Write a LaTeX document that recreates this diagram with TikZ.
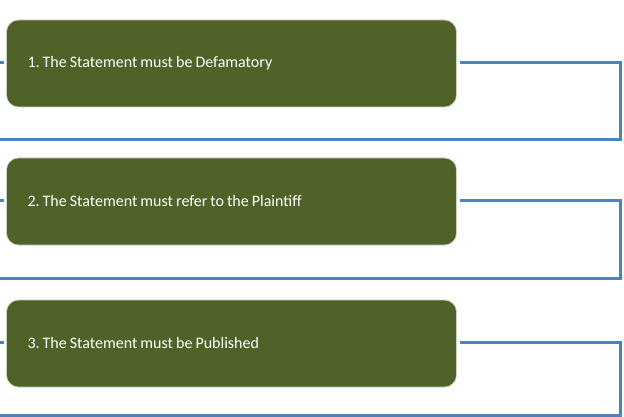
\documentclass[tikz,border=0pt]{standalone}
\usepackage{fontspec}
\setmainfont{Carlito}
\definecolor{boxgreen}{HTML}{4F6228}
\definecolor{lineblue}{HTML}{4F81BD}
% tighter word spaces, as the reference sets them
\newcommand\steptext[1]{\frenchspacing\spaceskip=0.19em\relax #1}
\tikzset{
  stepbox/.style={draw=boxgreen!30!white, line width=0.5pt, fill=boxgreen, rounded corners=9pt,
    text=white, align=left, text width=306pt, inner xsep=15.75pt, minimum height=65.25pt,
    font=\fontsize{12}{14}\selectfont},
  link/.style={draw=lineblue, line width=2.25pt}
}
\begin{document}
\begin{tikzpicture}[x=0.75pt, y=-0.75pt]
      % Keep the page at the size of the reference
      \useasboundingbox (0,0) rectangle (624,417);

      % The three steps, each with its bent return line
      \foreach \i/\y/\ybot/\txt in {1/63.5/140/{1. The Statement must be Defamatory},
                                    2/201.5/278/{2. The Statement must refer to the Plaintiff},
                                    3/343.5/415/{3. The Statement must be Published}} {
          \coordinate (r\i) at (620, \ybot);
          \coordinate (l\i) at (0, \ybot);
          \node[stepbox] (b\i) at (231.5, \y) {\steptext{\txt}};
          \draw[link, shorten <=2.25pt] ([yshift=1.1pt]b\i.east) -| (r\i) -- (l\i);
          \draw[link, shorten <=1.5pt] ([yshift=1.1pt]b\i.west) -- ([yshift=1.1pt]b\i.west -| l\i);
      }

    \end{tikzpicture}
\end{document}
